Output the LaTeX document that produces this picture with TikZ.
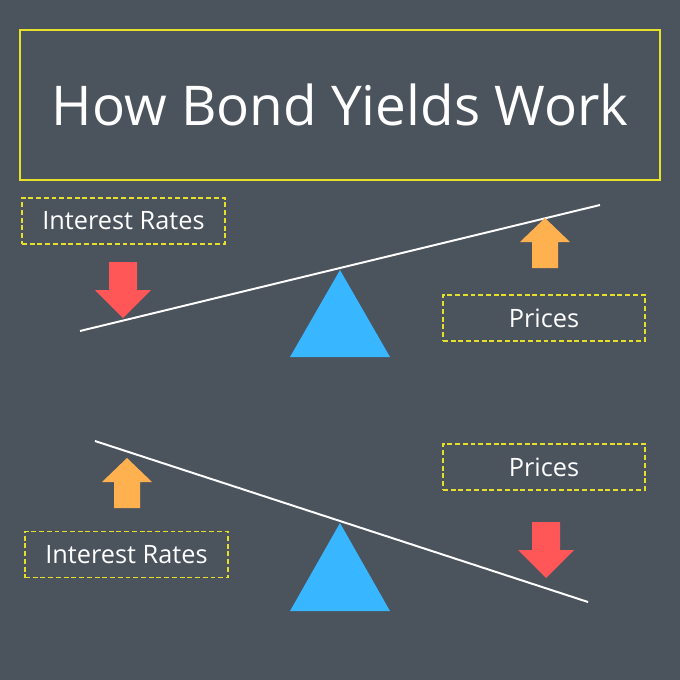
\documentclass[tikz,border=0pt]{standalone}
\usepackage{fontspec}
\setmainfont{Open Sans}
\usetikzlibrary{positioning}
\definecolor{bg}{HTML}{4B535D}
\definecolor{frame}{HTML}{E6E02A}
\definecolor{downred}{HTML}{FF5757}
\definecolor{uporange}{HTML}{FFB150}
\definecolor{pivot}{HTML}{38B6FF}
\tikzset{
  label box/.style={draw=frame, line width=2pt, dash pattern=on 7pt off 4pt, text=white, font=\fontsize{36}{40}\selectfont, minimum height=2.3cm, inner sep=0pt},
  beam/.style={draw=white, line width=2.8pt},
  pics/uparrow/.style={code={\fill[uporange] (-13,-26)--(-13,0)--(13,0)--(13,-26)--(25,-26)--(0,-50)--(-25,-26)--cycle;}},
  pics/downarrow/.style={code={\fill[downred] (-14,28)--(-14,0)--(14,0)--(14,28)--(28,28)--(0,56)--(-28,28)--cycle;}}
}
\begin{document}
\begin{tikzpicture}[x=0.05cm, y=-0.05cm]
  \fill[bg] (0,0) rectangle (680,680);
  % Title
  \draw[frame, line width=4pt] (20,30) rectangle (660,180);
  \node[text=white, font=\fontsize{78}{84}\selectfont] (title) at (340,105) {How Bond Yields Work};

  % Upper seesaw
  \draw[beam] (80,331) -- (600,205);
  \fill[pivot] (340,270) -- (390,357) -- (290,357) -- cycle;
  \node[label box, minimum width=10.15cm] (rates1) at (123.5,221) {Interest Rates};
  \node[label box, minimum width=10.1cm] (prices1) at (544,318) {Prices};
  \pic at (123,262) {downarrow};
  \pic at (545,268) {uparrow};

  % Lower seesaw
  \draw[beam] (95,441) -- (588,602);
  \fill[pivot] (340,523) -- (390,611) -- (290,611) -- cycle;
  \node[label box, minimum width=10.15cm] (rates2) at (126.5,554.5) {Interest Rates};
  \node[label box, minimum width=10.1cm] (prices2) at (544,467) {Prices};
  \pic at (127,508) {uparrow};
  \pic at (546,522) {downarrow};
\end{tikzpicture}
\end{document}
